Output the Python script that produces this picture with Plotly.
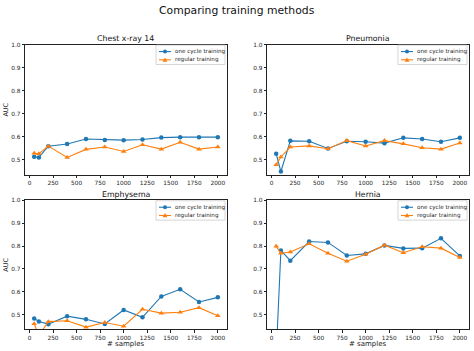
import plotly.graph_objects as go

samples = [50, 100, 200, 400, 600, 800, 1000, 1200, 1400, 1600, 1800, 2000]

titles = ["Chest x-ray 14", "Pneumonia", "Emphysema", "Hernia"]

chest_one = [0.514, 0.511, 0.560, 0.569, 0.591, 0.587, 0.586, 0.589, 0.597, 0.599, 0.599, 0.599]
chest_reg = [0.529, 0.527, 0.560, 0.511, 0.546, 0.556, 0.537, 0.566, 0.547, 0.577, 0.547, 0.556]

pneu_one = [0.527, 0.450, 0.583, 0.581, 0.550, 0.581, 0.579, 0.573, 0.596, 0.591, 0.579, 0.596]
pneu_reg = [0.479, 0.513, 0.556, 0.561, 0.549, 0.584, 0.561, 0.584, 0.570, 0.553, 0.547, 0.574]

emph_one = [0.484, 0.471, 0.459, 0.494, 0.480, 0.460, 0.521, 0.489, 0.580, 0.611, 0.556, 0.576]
emph_reg = [0.461, 0.410, 0.470, 0.474, 0.446, 0.466, 0.450, 0.524, 0.507, 0.511, 0.531, 0.496]

hern_one = [0.320, 0.781, 0.736, 0.820, 0.816, 0.759, 0.766, 0.803, 0.790, 0.791, 0.834, 0.757]
hern_reg = [0.799, 0.769, 0.774, 0.810, 0.769, 0.734, 0.764, 0.804, 0.771, 0.797, 0.791, 0.750]

series = [(chest_one, chest_reg), (pneu_one, pneu_reg), (emph_one, emph_reg), (hern_one, hern_reg)]
names = ["one cycle training", "regular training"]
xticks = [0, 250, 500, 750, 1000, 1250, 1500, 1750, 2000]
yticks = [0.5, 0.6, 0.7, 0.8, 0.9, 1.0]

W, H = 474, 351
# pixel boxes (left, right, top, bottom)
boxes = [(25, 227, 42, 173), (267, 469, 42, 173), (25, 227, 199, 329), (267, 469, 199, 329)]

BLUE = "#1f77b4"
ORANGE = "#ff7f0e"
FONT = "DejaVu Sans"
TXT = "#222"


def X(px):
    return px / W


def Y(py):
    return 1 - py / H


fig = go.Figure()
annotations = []
shapes = []
layout = dict(
    width=W, height=H, margin=dict(l=0, r=0, t=0, b=0),
    paper_bgcolor="white", plot_bgcolor="white",
    font=dict(family=FONT, color=TXT, size=6),
    showlegend=False,
)

for i, ((one, reg), title, box) in enumerate(zip(series, titles, boxes)):
    k = "" if i == 0 else str(i + 1)
    xa, ya = "x" + k, "y" + k
    fig.add_trace(go.Scatter(x=samples, y=one, name=names[0], mode="lines+markers",
                             line=dict(color=BLUE, width=1.1),
                             marker=dict(symbol="circle", size=4.5, color=BLUE),
                             xaxis=xa, yaxis=ya))
    fig.add_trace(go.Scatter(x=samples, y=reg, name=names[1], mode="lines+markers",
                             line=dict(color=ORANGE, width=1.1),
                             marker=dict(symbol="triangle-up", size=5, color=ORANGE),
                             xaxis=xa, yaxis=ya))
    l, r, t, b = box
    common = dict(ticks="outside", ticklen=2.5, tickwidth=0.8, tickcolor=TXT,
                  showline=True, linecolor=TXT, linewidth=0.8, mirror=True,
                  showgrid=False, zeroline=False, tickfont=dict(size=5.8, color=TXT))
    layout["xaxis" + k] = dict(domain=[X(l), X(r)], range=[-47.5, 2097.5], tickvals=xticks,
                               anchor=ya, **common)
    layout["yaxis" + k] = dict(domain=[Y(b), Y(t)], range=[0.437, 1.0], tickvals=yticks,
                               tickformat=".1f", anchor=xa, **common)

    # subplot title
    annotations.append(dict(text=title, x=X((l + r) / 2), y=Y(t - 6), xref="paper", yref="paper",
                            xanchor="center", yanchor="middle", showarrow=False,
                            font=dict(size=7.8, family=FONT, color="#111")))
    if i >= 2:
        annotations.append(dict(text="# samples", x=X((l + r) / 2), y=Y(344), xref="paper",
                                yref="paper", xanchor="center", yanchor="middle",
                                showarrow=False, font=dict(size=7, family=FONT, color=TXT)))
    if i % 2 == 0:
        annotations.append(dict(text="AUC", x=X(6), y=Y((t + b) / 2), xref="paper",
                                yref="paper", xanchor="center", yanchor="middle",
                                textangle=-90, showarrow=False,
                                font=dict(size=6.5, family=FONT, color=TXT)))

    # legend box (drawn as decoration)
    shapes.append(dict(type="rect", xref="paper", yref="paper",
                       x0=X(r - 71), x1=X(r - 2), y0=Y(t + 20), y1=Y(t + 0.5),
                       line=dict(color="#cccccc", width=0.8),
                       fillcolor="rgba(255,255,255,0.85)", layer="above"))
    rows = [t + 7, t + 15.3]
    cols = [BLUE, ORANGE]
    for j, (ry, c, nm) in enumerate(zip(rows, cols, names)):
        shapes.append(dict(type="line", xref="paper", yref="paper",
                           x0=X(r - 68), x1=X(r - 56), y0=Y(ry), y1=Y(ry),
                           line=dict(color=c, width=1.1), layer="above"))
        cx = r - 62
        if j == 0:
            shapes.append(dict(type="circle", xref="paper", yref="paper",
                               x0=X(cx - 2), x1=X(cx + 2), y0=Y(ry + 2), y1=Y(ry - 2),
                               fillcolor=c, line=dict(color=c, width=0), layer="above"))
        else:
            path = "M {:.5f} {:.5f} L {:.5f} {:.5f} L {:.5f} {:.5f} Z".format(
                X(cx), Y(ry - 2.4), X(cx - 2.4), Y(ry + 1.9), X(cx + 2.4), Y(ry + 1.9))
            shapes.append(dict(type="path", xref="paper", yref="paper", path=path,
                               fillcolor=c, line=dict(color=c, width=0), layer="above"))
        annotations.append(dict(text=nm, x=X(r - 54), y=Y(ry), xref="paper", yref="paper",
                                xanchor="left", yanchor="middle", showarrow=False,
                                font=dict(size=5.6, family=FONT, color=TXT)))

annotations.append(dict(text="Comparing training methods", x=0.5, y=Y(8), xref="paper",
                        yref="paper", xanchor="center", yanchor="middle", showarrow=False,
                        font=dict(size=10.8, family=FONT, color="#111")))

layout["annotations"] = annotations
layout["shapes"] = shapes
fig.update_layout(**layout)
fig.write_html("out.html")
